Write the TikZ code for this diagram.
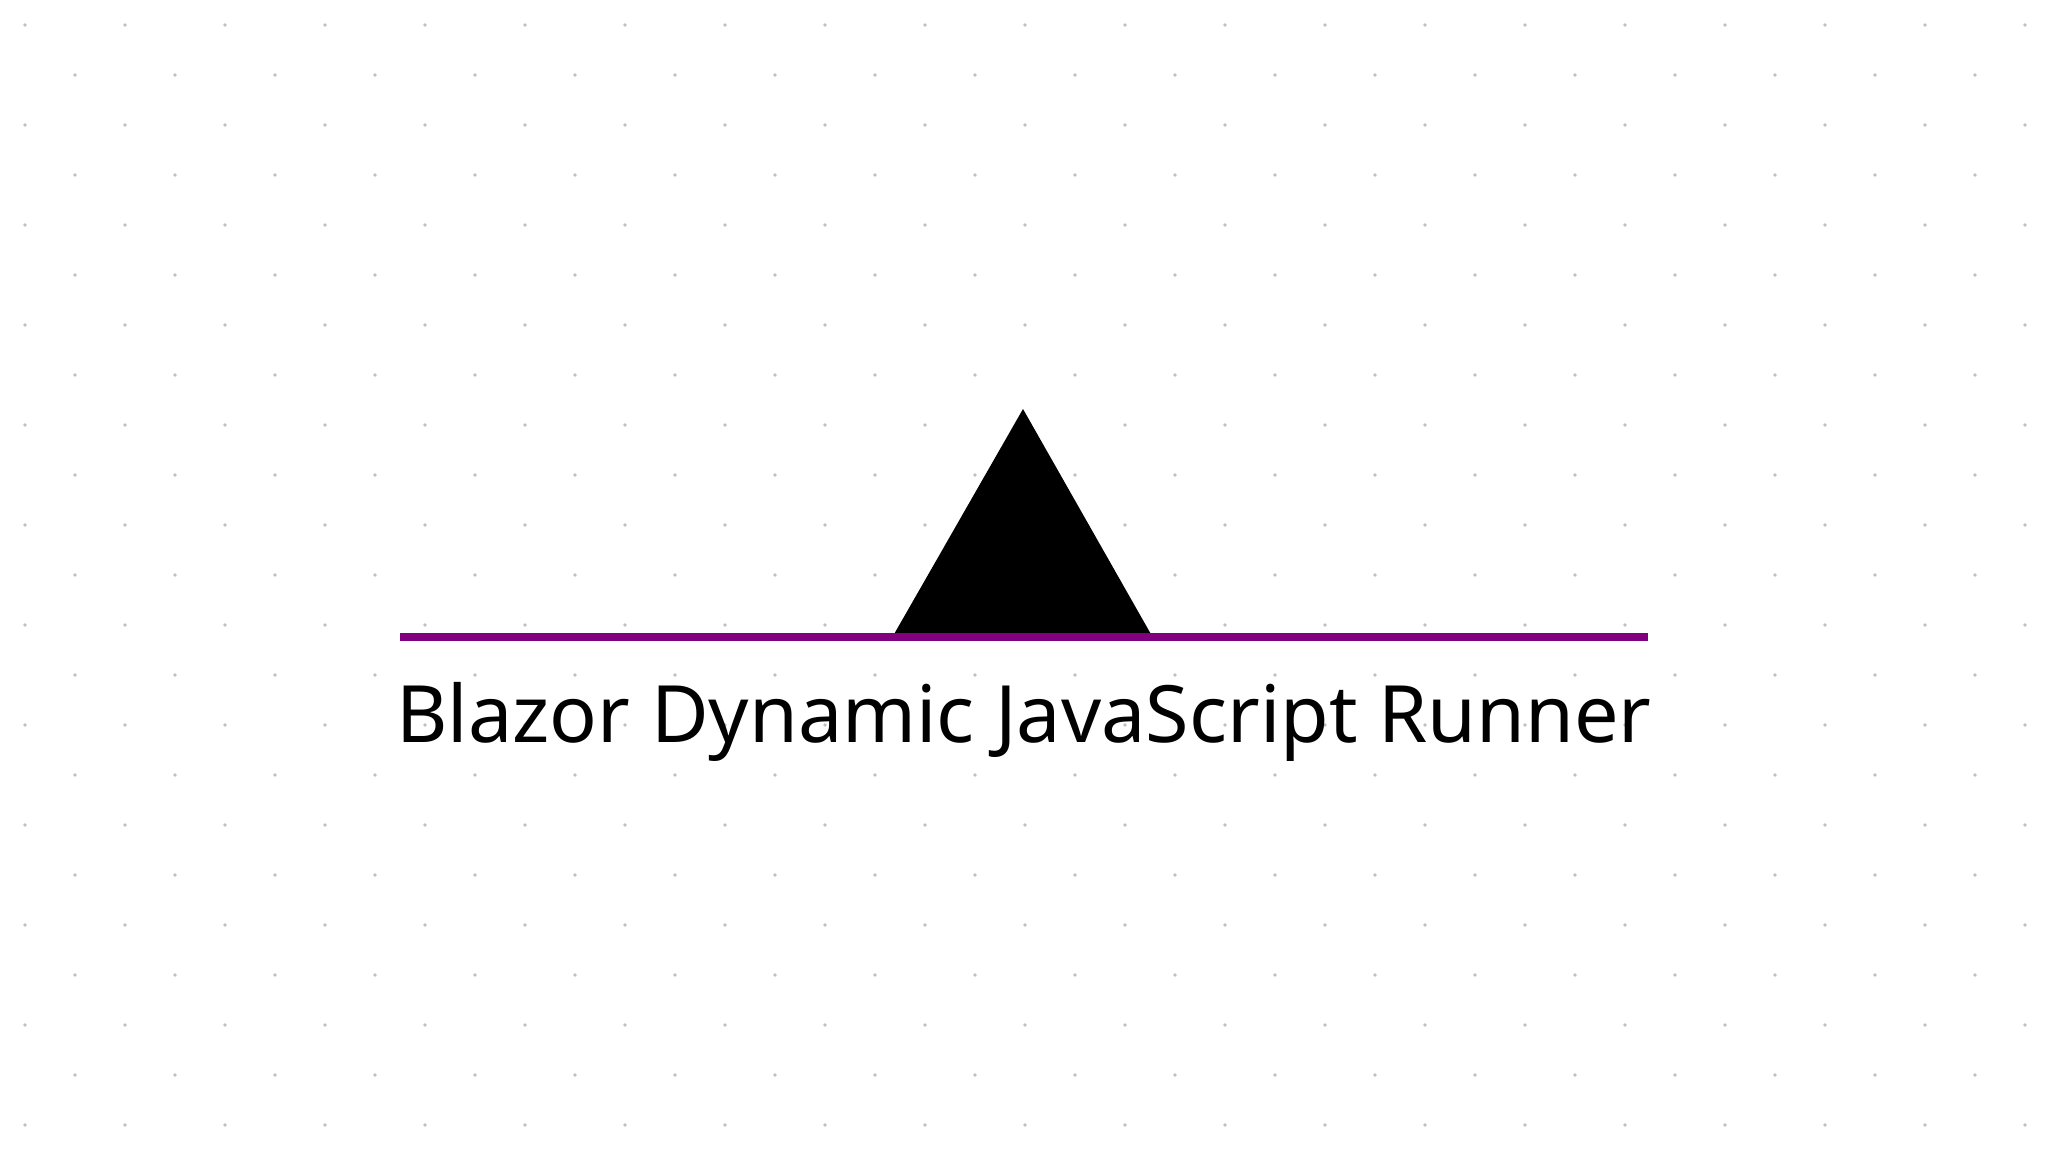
\documentclass[tikz,border=0pt]{standalone}
\usepackage{fontspec}
\setmainfont{Noto Sans}
\definecolor{barpurple}{RGB}{128,0,128}
\begin{document}
\begin{tikzpicture}[x=0.01cm,y=-0.01cm,
    griddot/.style={fill=gray!50},
    bar/.style={draw=barpurple,line width=0.085cm},
    peak/.style={fill=black},
    title/.style={font=\fontsize{22.5}{27}\selectfont,anchor=base},
]
  \useasboundingbox (0,0) rectangle (2048,1170);
  % dotted background
  \foreach \i in {0,...,40}
    \foreach \j in {0,...,23}{
      \pgfmathparse{int(mod(\i+\j,2))}
      \ifnum\pgfmathresult=0
        \fill[griddot] (\i*50+25,\j*50+25) circle (1.8);
      \fi
    }
  \coordinate (L) at (400,637);
  \coordinate (R) at (1648,637);
  \coordinate (apex) at (1023,409);
  \fill[peak] (893,636) -- (apex) -- (1152,636) -- cycle;
  \draw[bar] (L) -- (R);
  \node[title] (name) at (1024,742) {Blazor Dynamic JavaScript Runner};
\end{tikzpicture}
\end{document}
